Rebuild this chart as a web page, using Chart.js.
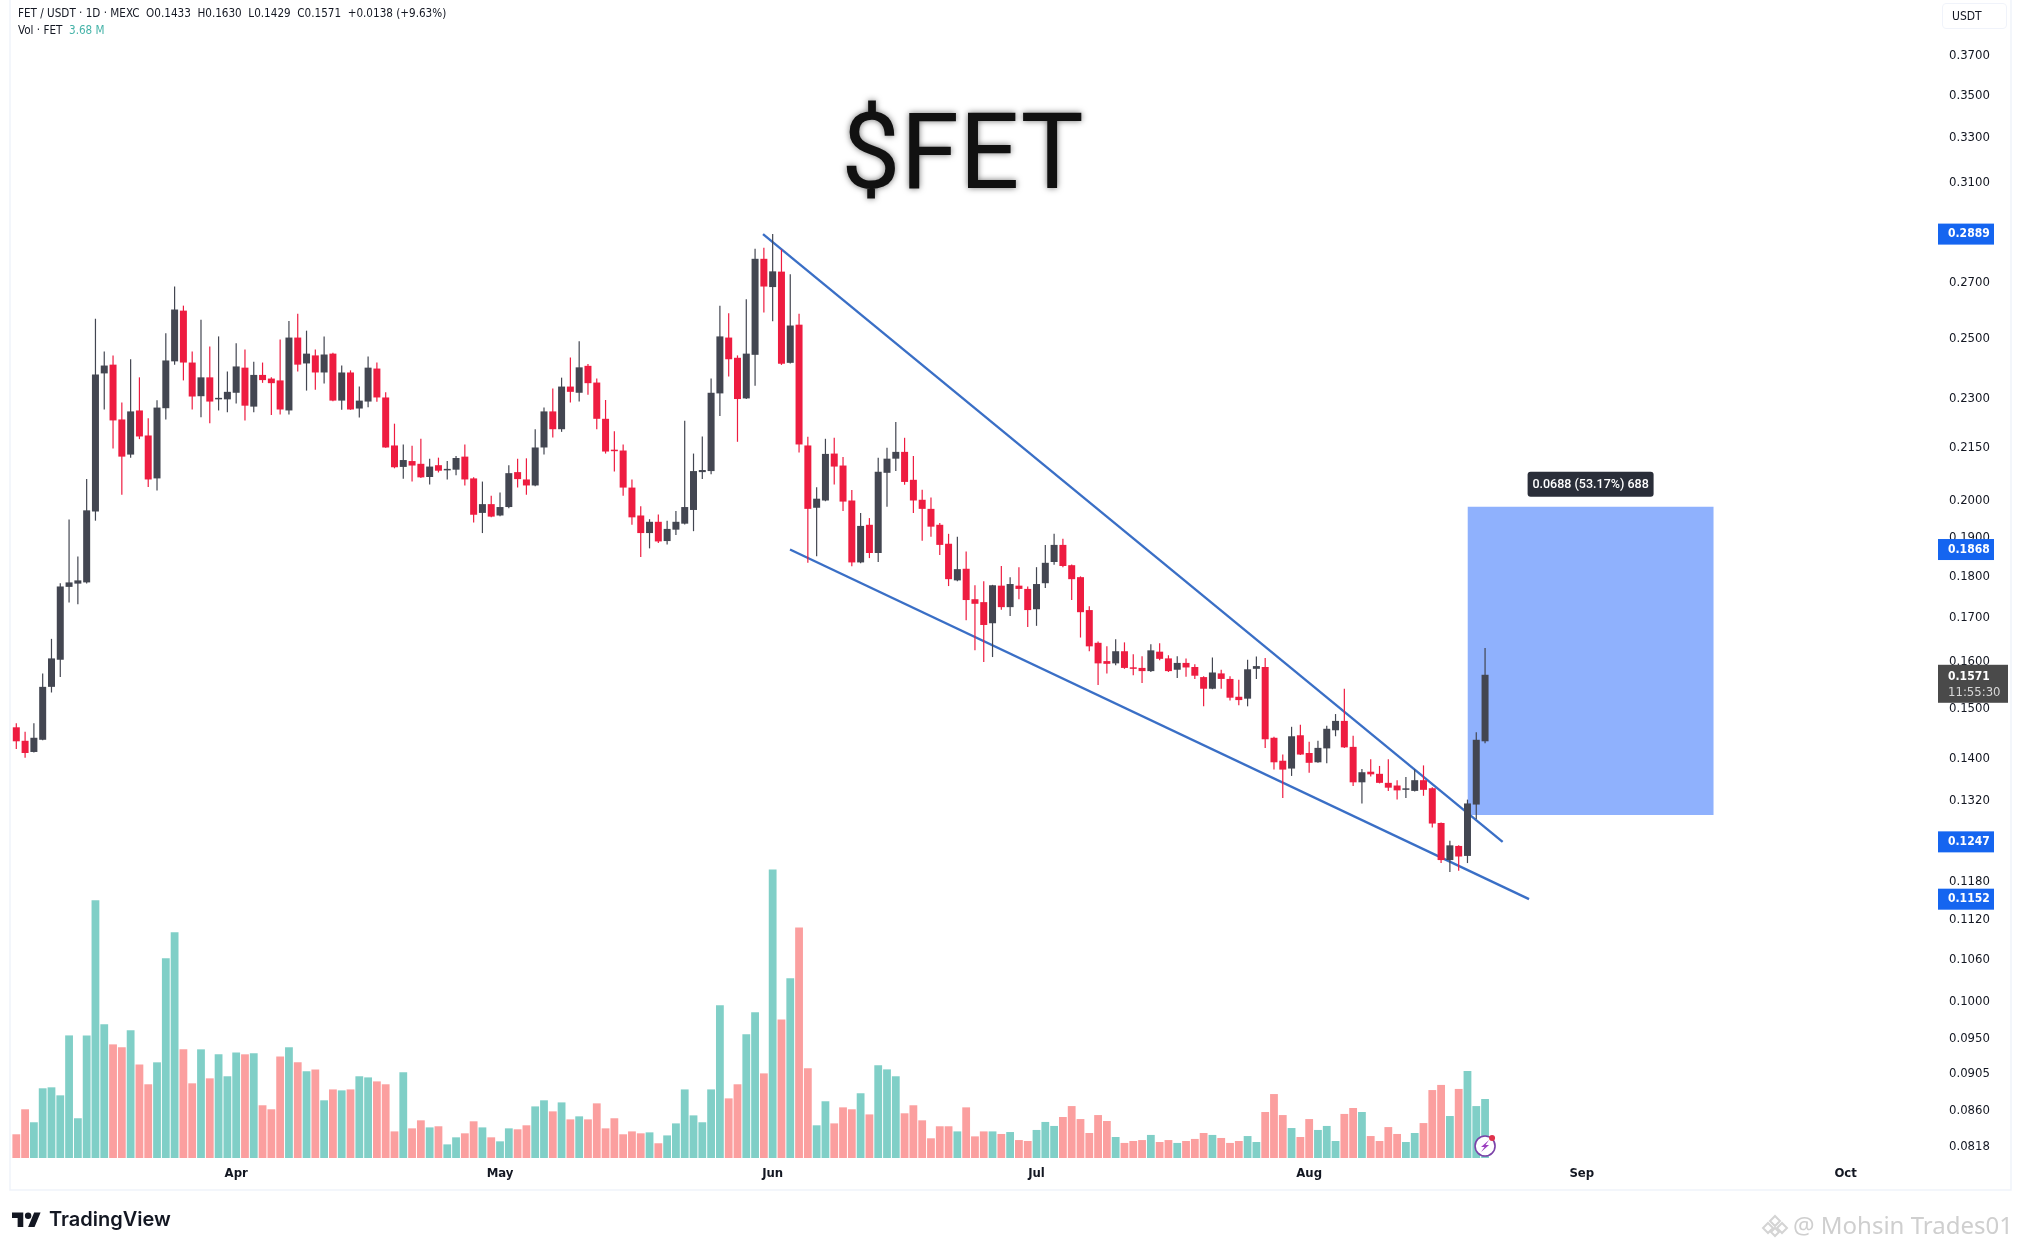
<!DOCTYPE html>
<html>
<head>
<meta charset="utf-8">
<title>FET / USDT</title>
<script src="https://cdn.jsdelivr.net/npm/chart.js@4"></script>
<style>
  html, body { margin: 0; padding: 0; background: #fff; }
  #wrap { position: relative; width: 2022px; height: 1250px; overflow: hidden; }
  #chart { position: absolute; left: 0; top: 0; }
  .txt { position: absolute; white-space: pre; color: #131722; }
  #title { left: 841px; top: 90px; font: 400 106px Roboto, sans-serif; color: #111; text-shadow: 0 0 6px rgba(0,0,0,.55); }
  #legend1 { left: 18px; top: 6px; font: 11.6px "DejaVu Sans Condensed", "DejaVu Sans", sans-serif; }
  #legend2 { left: 18px; top: 23px; font: 11.6px "DejaVu Sans Condensed", "DejaVu Sans", sans-serif; }
  #legend2 span { color: #45b3a8; }
  #usdt { left: 1942px; top: 3px; width: 65px; height: 26px; line-height: 26px; box-sizing: border-box; padding-left: 9px; border: 1px solid #f0f3fa; border-radius: 4px; font: 12px/24px "DejaVu Sans Condensed", "DejaVu Sans", sans-serif; }
  #tvlogo { position: absolute; left: 12px; top: 1209px; }
  #tvtext { left: 49px; top: 1207px; font: 600 20px Inter, sans-serif; color: #131722; }
  #mark { left: 1793px; top: 1208px; font: 24px "Noto Sans", sans-serif; color: #cfcfcf; }
  #markicon { position: absolute; left: 1761px; top: 1214px; }
</style>
</head>
<body>
<div id="wrap">
  <canvas id="chart" width="2022" height="1250"></canvas>
  <div class="txt" id="title">$FET</div>
  <div class="txt" id="legend1">FET / USDT · 1D · MEXC  O0.1433  H0.1630  L0.1429  C0.1571  +0.0138 (+9.63%)</div>
  <div class="txt" id="legend2">Vol · FET  <span>3.68 M</span></div>
  <div class="txt" id="usdt">USDT</div>
  <svg id="tvlogo" width="29" height="23" viewBox="0 0 36 28"><path fill="#131722" d="M14 22H7V11H0V4h14v18zM28 22h-8l7.5-18h8L28 22z"/><circle fill="#131722" cx="20" cy="8" r="4"/></svg>
  <div class="txt" id="tvtext">TradingView</div>
  <svg id="markicon" width="28" height="24" viewBox="0 0 28 24"><g fill="none" stroke="#d4d4d4" stroke-width="2"><path d="M14 2l5 5-5 5-5-5z"/><path d="M7 9l5 5-5 5-5-5z"/><path d="M21 9l5 5-5 5-5-5z"/><path d="M14 14l4 4-4 4-4-4z"/></g></svg>
  <div class="txt" id="mark">@ Mohsin Trades01</div>
</div>

<script>
// FOR CANDLES (day 0 is Mar 7)
const opens = [
  0.1461,0.1434,0.1412,0.1436,0.1545,0.1604,0.1774,0.1782,0.1785,0.1969,
  0.2383,0.2412,0.2236,0.2130,0.2264,0.2187,0.2061,0.2271,0.2423,0.2599,
  0.2419,0.2309,0.2370,0.2299,0.2299,0.2320,0.2402,0.2276,0.2378,0.2366,
  0.2360,0.2264,0.2504,0.2416,0.2443,0.2386,0.2449,0.2295,0.2386,0.2270,
  0.2292,0.2399,0.2305,0.2157,0.2094,0.2111,0.2103,0.2065,0.2099,0.2084,
  0.2086,0.2124,0.2061,0.1965,0.1989,0.1958,0.1981,0.2079,0.2058,0.2041,
  0.2151,0.2261,0.2206,0.2340,0.2320,0.2408,0.2353,0.2238,0.2143,0.2142,
  0.2035,0.1958,0.1911,0.1941,0.1890,0.1920,0.1936,0.1973,0.2079,0.2082,
  0.2318,0.2504,0.2435,0.2302,0.2445,0.2792,0.2685,0.2743,0.2418,0.2549,
  0.2157,0.1979,0.1999,0.2133,0.2098,0.1999,0.1835,0.1933,0.1859,0.2077,
  0.2118,0.2138,0.2057,0.2001,0.1976,0.1933,0.1883,0.1790,0.1819,0.1744,
  0.1737,0.1687,0.1777,0.1725,0.1777,0.1769,0.1720,0.1783,0.1836,0.1880,
  0.1828,0.1798,0.1718,0.1642,0.1601,0.1596,0.1623,0.1586,0.1586,0.1579,
  0.1622,0.1607,0.1582,0.1597,0.1588,0.1566,0.1541,0.1574,0.1562,0.1524,
  0.1520,0.1584,0.1588,0.1440,0.1395,0.1380,0.1445,0.1410,0.1392,0.1419,
  0.1455,0.1474,0.1422,0.1354,0.1374,0.1370,0.1353,0.1348,0.1340,0.1338,
  0.1358,0.1343,0.1280,0.1216,0.1240,0.1223,0.1313,0.1433
];
const highs = [
  0.1469,0.1452,0.1469,0.1574,0.1651,0.1783,0.1947,0.1850,0.2059,0.2570,
  0.2456,0.2443,0.2289,0.2430,0.2370,0.2240,0.2296,0.2519,0.2687,0.2617,
  0.2456,0.2566,0.2473,0.2508,0.2389,0.2484,0.2463,0.2422,0.2419,0.2370,
  0.2497,0.2562,0.2588,0.2528,0.2463,0.2508,0.2452,0.2409,0.2393,0.2340,
  0.2439,0.2419,0.2322,0.2223,0.2160,0.2156,0.2177,0.2118,0.2121,0.2111,
  0.2126,0.2160,0.2064,0.2052,0.2012,0.2021,0.2099,0.2118,0.2119,0.2206,
  0.2273,0.2334,0.2369,0.2436,0.2491,0.2414,0.2366,0.2297,0.2200,0.2160,
  0.2058,0.1983,0.1948,0.1961,0.1944,0.1970,0.2232,0.2133,0.2184,0.2366,
  0.2617,0.2590,0.2443,0.2640,0.2831,0.2835,0.2889,0.2828,0.2733,0.2588,
  0.2183,0.2036,0.2177,0.2180,0.2123,0.2028,0.1965,0.1951,0.2121,0.2150,
  0.2228,0.2180,0.2126,0.2029,0.2007,0.1938,0.1909,0.1901,0.1863,0.1778,
  0.1788,0.1779,0.1826,0.1798,0.1823,0.1775,0.1823,0.1880,0.1909,0.1896,
  0.1830,0.1800,0.1727,0.1645,0.1634,0.1650,0.1643,0.1616,0.1612,0.1639,
  0.1641,0.1614,0.1612,0.1607,0.1594,0.1568,0.1609,0.1582,0.1568,0.1560,
  0.1604,0.1611,0.1608,0.1442,0.1407,0.1462,0.1466,0.1432,0.1434,0.1464,
  0.1488,0.1541,0.1444,0.1379,0.1398,0.1385,0.1398,0.1358,0.1364,0.1378,
  0.1386,0.1345,0.1281,0.1249,0.1241,0.1322,0.1451,0.1630
];
const lows = [
  0.1418,0.1401,0.1411,0.1435,0.1533,0.1566,0.1736,0.1732,0.1782,0.1944,
  0.2267,0.2148,0.2015,0.2121,0.2176,0.2037,0.2027,0.2236,0.2412,0.2360,
  0.2267,0.2243,0.2224,0.2264,0.2258,0.2286,0.2233,0.2258,0.2352,0.2250,
  0.2251,0.2251,0.2389,0.2327,0.2330,0.2350,0.2293,0.2266,0.2266,0.2242,
  0.2274,0.2291,0.2150,0.2090,0.2060,0.2052,0.2062,0.2044,0.2078,0.2058,
  0.2070,0.2041,0.1939,0.1911,0.1953,0.1956,0.1978,0.2035,0.2015,0.2039,
  0.2130,0.2181,0.2198,0.2289,0.2292,0.2314,0.2206,0.2133,0.2081,0.2012,
  0.1933,0.1849,0.1871,0.1885,0.1881,0.1906,0.1934,0.1916,0.2059,0.2073,
  0.2247,0.2373,0.2168,0.2300,0.2343,0.2592,0.2561,0.2411,0.2416,0.2136,
  0.1834,0.1851,0.1997,0.2044,0.1970,0.1825,0.1833,0.1846,0.1836,0.1982,
  0.2082,0.2043,0.1965,0.1891,0.1901,0.1854,0.1776,0.1788,0.1694,0.1625,
  0.1599,0.1610,0.1719,0.1704,0.1744,0.1678,0.1681,0.1771,0.1829,0.1823,
  0.1742,0.1654,0.1623,0.1549,0.1574,0.1592,0.1584,0.1570,0.1553,0.1577,
  0.1603,0.1577,0.1564,0.1567,0.1562,0.1504,0.1540,0.1541,0.1516,0.1506,
  0.1504,0.1562,0.1420,0.1378,0.1325,0.1366,0.1406,0.1372,0.1391,0.1390,
  0.1443,0.1420,0.1347,0.1315,0.1365,0.1352,0.1338,0.1322,0.1325,0.1337,
  0.1329,0.1272,0.1211,0.1196,0.1198,0.1211,0.1287,0.1429
];
const closes = [
  0.1433,0.1410,0.1440,0.1545,0.1607,0.1775,0.1785,0.1790,0.1972,0.2379,
  0.2409,0.2233,0.2124,0.2261,0.2184,0.2058,0.2273,0.2426,0.2603,0.2419,
  0.2308,0.2370,0.2292,0.2302,0.2323,0.2406,0.2279,0.2378,0.2361,0.2351,
  0.2267,0.2504,0.2412,0.2449,0.2386,0.2446,0.2295,0.2386,0.2267,0.2295,
  0.2402,0.2305,0.2151,0.2093,0.2114,0.2098,0.2064,0.2095,0.2083,0.2088,
  0.2120,0.2058,0.1960,0.1989,0.1955,0.1981,0.2076,0.2059,0.2041,0.2151,
  0.2261,0.2206,0.2340,0.2323,0.2403,0.2351,0.2238,0.2139,0.2140,0.2035,
  0.1953,0.1911,0.1941,0.1889,0.1922,0.1941,0.1981,0.2082,0.2085,0.2320,
  0.2508,0.2430,0.2300,0.2449,0.2792,0.2687,0.2744,0.2415,0.2546,0.2160,
  0.1976,0.2004,0.2132,0.2095,0.1996,0.1835,0.1930,0.1859,0.2080,0.2118,
  0.2138,0.2051,0.1999,0.1976,0.1928,0.1880,0.1793,0.1818,0.1742,0.1733,
  0.1683,0.1778,0.1725,0.1781,0.1769,0.1718,0.1781,0.1834,0.1880,0.1826,
  0.1793,0.1713,0.1634,0.1596,0.1595,0.1623,0.1586,0.1584,0.1579,0.1625,
  0.1606,0.1579,0.1597,0.1587,0.1569,0.1541,0.1576,0.1562,0.1522,0.1517,
  0.1583,0.1590,0.1437,0.1392,0.1378,0.1443,0.1407,0.1391,0.1420,0.1458,
  0.1474,0.1421,0.1354,0.1373,0.1369,0.1353,0.1344,0.1339,0.1342,0.1358,
  0.1340,0.1279,0.1216,0.1241,0.1222,0.1315,0.1436,0.1571
];

// FOR VOLUME (millions of FET)
const volumes = [
  1.48,3.04,2.23,4.35,4.41,3.91,7.65,2.48,7.65,16.08,
  8.34,7.09,6.91,7.97,5.84,4.60,5.97,12.46,14.08,6.78,
  4.66,6.78,4.97,6.47,5.10,6.59,6.47,6.53,3.29,3.04,
  6.34,6.91,5.97,5.41,5.53,3.60,4.28,4.22,4.28,5.10,
  5.03,4.78,4.60,1.66,5.35,1.85,2.35,1.91,1.98,0.85,
  1.29,1.54,2.29,1.91,1.29,1.04,1.85,1.79,2.04,3.22,
  3.60,2.91,3.47,2.41,2.60,2.41,3.41,1.85,2.48,1.48,
  1.66,1.54,1.60,0.92,1.41,2.16,4.28,2.66,2.23,4.28,
  9.53,3.72,4.60,7.72,9.09,5.28,18.01,8.65,11.21,14.39,
  5.60,2.04,3.54,2.16,3.16,3.04,4.04,2.72,5.78,5.53,
  5.10,2.79,3.29,2.35,1.23,1.98,1.98,1.66,3.16,1.35,
  1.66,1.66,1.50,1.62,1.12,1.06,1.75,2.25,2.00,2.56,
  3.24,2.43,1.56,2.68,2.31,1.31,0.94,1.06,1.12,1.44,
  1.00,1.12,0.94,1.06,1.19,1.56,1.44,1.25,0.94,1.06,
  1.37,1.00,2.87,3.99,2.68,1.87,1.31,2.43,1.75,2.00,
  1.06,2.75,3.12,2.87,1.37,1.06,1.93,1.50,1.00,1.56,
  2.18,4.24,4.56,2.62,4.31,5.43,3.24,3.68
];

// FOR AXES
const priceTicks = [0.37,0.35,0.33,0.31,0.27,0.25,0.23,0.215,0.20,0.19,0.18,0.17,0.16,0.15,0.14,0.132,0.118,0.112,0.106,0.10,0.095,0.0905,0.086,0.0818];
const monthDays = [25,55,86,116,147,178,208];
const monthLabels = ["Apr","May","Jun","Jul","Aug","Sep","Oct"];

// FOR DRAWINGS
const upperLineDays = [84.9,169];
const upperLinePrices = [0.2889,0.1247];
const lowerLineDays = [87.97,172];
const lowerLinePrices = [0.1868,0.1152];
const boxDays = [165,193];
const boxPrices = [0.1294,0.1982];
const boxLabel = "0.0688 (53.17%) 688";
const priceTags = [0.2889,0.1868,0.1247,0.1152];
const lastPrice = 0.1571;
const lastCountdown = "11:55:30";

const UP = "#434651", DOWN = "#ee1c40", VOL_UP = "#80cfc7", VOL_DOWN = "#fb9f9f";
const LABEL_FONT = '"DejaVu Sans Condensed", "DejaVu Sans", sans-serif';

const candleColors = opens.map((o, i) => closes[i] >= o ? UP : DOWN);
const volumeColors = opens.map((o, i) => closes[i] >= o ? VOL_UP : VOL_DOWN);

const overlay = {
  id: "overlay",
  beforeDraw(chart) {
    const c = chart.ctx;
    c.save();
    c.strokeStyle = "#f0f3fa";
    c.lineWidth = 1.5;
    c.beginPath();
    c.moveTo(10, 0); c.lineTo(10, 1190); c.lineTo(2011, 1190); c.lineTo(2011, 0);
    c.stroke();
    c.restore();
  },
  afterDraw(chart) {
    const c = chart.ctx, x = chart.scales.x, y = chart.scales.y;
    const left = chart.chartArea.right;
    c.save();
    c.textBaseline = "middle";

    // blue tags for line ends
    priceTags.forEach(p => {
      const py = y.getPixelForValue(p);
      c.fillStyle = "#1565f0";
      c.fillRect(left, py - 10.5, 56, 21);
      c.fillStyle = "#fff";
      c.font = "bold 12px " + LABEL_FONT;
      c.fillText(p.toFixed(4), left + 10, py);
    });

    // last price with countdown
    const ly = y.getPixelForValue(lastPrice);
    c.fillStyle = "#4a4a4a";
    c.fillRect(left, ly - 10, 70, 38);
    c.fillStyle = "#fff";
    c.font = "bold 12px " + LABEL_FONT;
    c.fillText(lastPrice.toFixed(4), left + 10, ly + 2);
    c.fillStyle = "#d8d8d8";
    c.font = "13px " + LABEL_FONT;
    c.fillText(lastCountdown, left + 10, ly + 18);

    // measure label above the box
    const mid = x.getPixelForValue((boxDays[0] + boxDays[1]) / 2);
    const top = y.getPixelForValue(boxPrices[1]);
    c.fillStyle = "#2a2e39";
    c.beginPath();
    c.roundRect(mid - 63, top - 35, 126, 25, 3);
    c.fill();
    c.fillStyle = "#fff";
    c.textAlign = "center";
    c.font = "500 12.5px Roboto, sans-serif";
    c.fillText(boxLabel, mid, top - 22);

    // lightning badge over the last volume bar
    const bx = x.getPixelForValue(opens.length - 1), by = 1146;
    c.fillStyle = "#fff";
    c.strokeStyle = "#7b42a8";
    c.lineWidth = 1.6;
    c.beginPath(); c.arc(bx, by, 10, 0, Math.PI * 2); c.fill(); c.stroke();
    c.fillStyle = "#9c3fc0";
    c.beginPath();
    c.moveTo(bx + 4, by - 6); c.lineTo(bx - 4, by + 1); c.lineTo(bx - 0.5, by + 1);
    c.lineTo(bx - 4, by + 6); c.lineTo(bx + 4, by - 1); c.lineTo(bx + 0.5, by - 1);
    c.closePath(); c.fill();
    c.fillStyle = "#e0334c";
    c.beginPath(); c.arc(bx + 7, by - 8, 3, 0, Math.PI * 2); c.fill();
    c.restore();
  }
};

new Chart(document.getElementById("chart"), {
  type: "bar",
  plugins: [overlay],
  data: {
    datasets: [
      {
        type: "line",
        data: boxDays.map(d => ({ x: d, y: boxPrices[1] })),
        fill: { value: boxPrices[0] },
        backgroundColor: "#8fb1fd",
        borderWidth: 0,
        pointRadius: 0,
        order: 6
      },
      {
        type: "line",
        data: upperLineDays.map((d, i) => ({ x: d, y: upperLinePrices[i] })),
        borderColor: "#3a6fc6",
        borderWidth: 2.4,
        pointRadius: 0,
        order: 5
      },
      {
        type: "line",
        data: lowerLineDays.map((d, i) => ({ x: d, y: lowerLinePrices[i] })),
        borderColor: "#3a6fc6",
        borderWidth: 2.4,
        pointRadius: 0,
        order: 4
      },
      {
        data: volumes.map((v, i) => ({ x: i, y: v })),
        yAxisID: "vol",
        backgroundColor: volumeColors,
        barThickness: 7.8,
        inflateAmount: 0,
        grouped: false,
        order: 3
      },
      {
        data: highs.map((h, i) => ({ x: i, y: [lows[i], h] })),
        backgroundColor: candleColors,
        barThickness: 1.2,
        inflateAmount: 0,
        grouped: false,
        order: 2
      },
      {
        data: opens.map((o, i) => ({ x: i, y: [o, closes[i]] })),
        backgroundColor: candleColors,
        barThickness: 7,
        minBarLength: 1.5,
        inflateAmount: 0,
        grouped: false,
        order: 1
      }
    ]
  },
  options: {
    responsive: false,
    devicePixelRatio: 1,
    animation: false,
    layout: { padding: { left: 10, right: 11, top: 0, bottom: 60 } },
    plugins: { legend: { display: false }, tooltip: { enabled: false }, title: { display: false } },
    scales: {
      x: {
        type: "linear",
        offset: false,
        bounds: "data",
        min: -0.716,
        max: 218.5,
        grid: { display: false, drawTicks: false },
        border: { display: false },
        afterFit: s => { s.height = 32; s.paddingLeft = 0; s.paddingRight = 0; },
        afterBuildTicks: s => { s.ticks = monthDays.map(d => ({ value: d })); },
        ticks: {
          autoSkip: false,
          maxRotation: 0,
          padding: 8,
          color: "#131722",
          font: { family: LABEL_FONT, size: 13, weight: "bold" },
          callback: v => monthLabels[monthDays.indexOf(v)]
        }
      },
      y: {
        type: "logarithmic",
        position: "right",
        bounds: "data",
        min: 0.08055,
        max: 0.3993,
        grid: { display: false, drawTicks: false },
        border: { display: false },
        afterFit: s => { s.width = 73; s.paddingTop = 0; s.paddingBottom = 0; },
        afterBuildTicks: s => { s.ticks = priceTicks.map(p => ({ value: p })); },
        ticks: {
          autoSkip: false,
          padding: 11,
          color: "#131722",
          font: { family: LABEL_FONT, size: 13 },
          callback: v => v.toFixed(4)
        }
      },
      vol: {
        type: "linear",
        display: false,
        min: 0,
        max: 72.26
      }
    }
  }
});
</script>
</body>
</html>
